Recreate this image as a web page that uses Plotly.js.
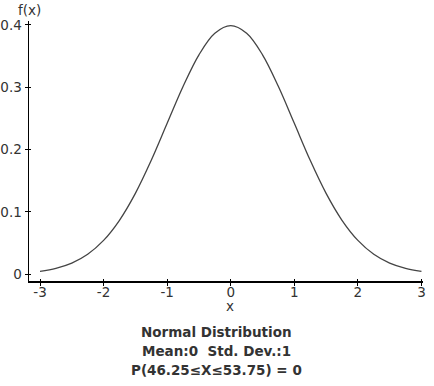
<!DOCTYPE html>
<html>
<head>
<meta charset="utf-8">
<script src="https://cdn.plot.ly/plotly-3.0.1.min.js"></script>
<style>html,body{margin:0;padding:0;background:#fff;}#chart{width:434px;height:386px;}</style>
</head>
<body>
<div id="chart"></div>
<script>
// Values
const xValues = [-3, -2.75, -2.5, -2.25, -2, -1.75, -1.5, -1.25, -1, -0.75, -0.5, -0.25, 0,
                 0.25, 0.5, 0.75, 1, 1.25, 1.5, 1.75, 2, 2.25, 2.5, 2.75, 3];
const fValues = [0.0044, 0.0091, 0.0175, 0.0317, 0.0540, 0.0863, 0.1295, 0.1826, 0.2420, 0.3011, 0.3521, 0.3867, 0.3989,
                 0.3867, 0.3521, 0.3011, 0.2420, 0.1826, 0.1295, 0.0863, 0.0540, 0.0317, 0.0175, 0.0091, 0.0044];
const xTicks = [-3, -2, -1, 0, 1, 2, 3];
const yTicks = [0, 0.1, 0.2, 0.3, 0.4];
const yTickLabels = ['0', '0.1', '0.2', '0.3', '0.4'];
const titleLines = ['Normal Distribution', 'Mean:0&nbsp;&nbsp;Std. Dev.:1', 'P(46.25≤X≤53.75) = 0'];
const xLabel = 'x';
const yLabel = 'f(x)';

const FONT = 'Verdana, "DejaVu Sans", sans-serif';
const xRange = [-3.173, 3.024];
const yRange = [-0.0112, 0.4064];

const traces = [
  {x: xValues, y: fValues, mode: 'lines', line: {color: '#444', width: 1.3, shape: 'spline'}, hoverinfo: 'skip', showlegend: false},
  {x: xValues, y: fValues, mode: 'lines', line: {color: 'rgba(0,0,0,0)', width: 0}, xaxis: 'x2', yaxis: 'y2', hoverinfo: 'skip', showlegend: false}
];

const baseAxis = {
  showgrid: false, zeroline: false, showline: true, linecolor: '#000', linewidth: 1.5,
  tickcolor: '#000', tickwidth: 1, color: '#333',
  tickfont: {family: FONT, size: 13.5, color: '#333'}
};

const layout = {
  width: 434, height: 386,
  margin: {l: 29, r: 11, t: 21, b: 105, pad: 0},
  paper_bgcolor: '#fff', plot_bgcolor: '#fff',
  showlegend: false,
  xaxis: Object.assign({}, baseAxis, {range: xRange, tickmode: 'array', tickvals: xTicks, ticktext: xTicks.map(String), ticks: 'outside', ticklen: 3, ticklabelstandoff: -5}),
  yaxis: Object.assign({}, baseAxis, {range: yRange, tickmode: 'array', tickvals: yTicks, ticktext: yTickLabels, ticks: 'outside', ticklen: 3}),
  xaxis2: {overlaying: 'x', range: xRange, tickmode: 'array', tickvals: xTicks, ticks: 'inside', ticklen: 2, tickcolor: '#000', showticklabels: false, showgrid: false, zeroline: false, showline: false},
  yaxis2: {overlaying: 'y', range: yRange, tickmode: 'array', tickvals: yTicks, ticks: 'inside', ticklen: 2, tickcolor: '#000', showticklabels: false, showgrid: false, zeroline: false, showline: false},
  annotations: [
    {text: yLabel, xref: 'paper', yref: 'paper', x: 0.0, y: 1.042, showarrow: false, xanchor: 'center', yanchor: 'middle', font: {family: FONT, size: 13.5, color: '#333'}},
    {text: xLabel, xref: 'paper', yref: 'paper', x: 0.510, y: -0.098, showarrow: false, xanchor: 'center', yanchor: 'middle', font: {family: FONT, size: 13.5, color: '#333'}},
    {text: '<b>' + titleLines[0] + '</b>', xref: 'paper', yref: 'paper', x: 0.476, y: -0.196, showarrow: false, xanchor: 'center', yanchor: 'middle', font: {family: FONT, size: 13.5, color: '#333'}},
    {text: '<b>' + titleLines[1] + '</b>', xref: 'paper', yref: 'paper', x: 0.476, y: -0.269, showarrow: false, xanchor: 'center', yanchor: 'middle', font: {family: FONT, size: 13.5, color: '#333'}},
    {text: '<b>' + titleLines[2] + '</b>', xref: 'paper', yref: 'paper', x: 0.476, y: -0.342, showarrow: false, xanchor: 'center', yanchor: 'middle', font: {family: FONT, size: 13.5, color: '#333'}}
  ]
};

Plotly.newPlot('chart', traces, layout, {staticPlot: true, displayModeBar: false});
</script>
</body>
</html>
